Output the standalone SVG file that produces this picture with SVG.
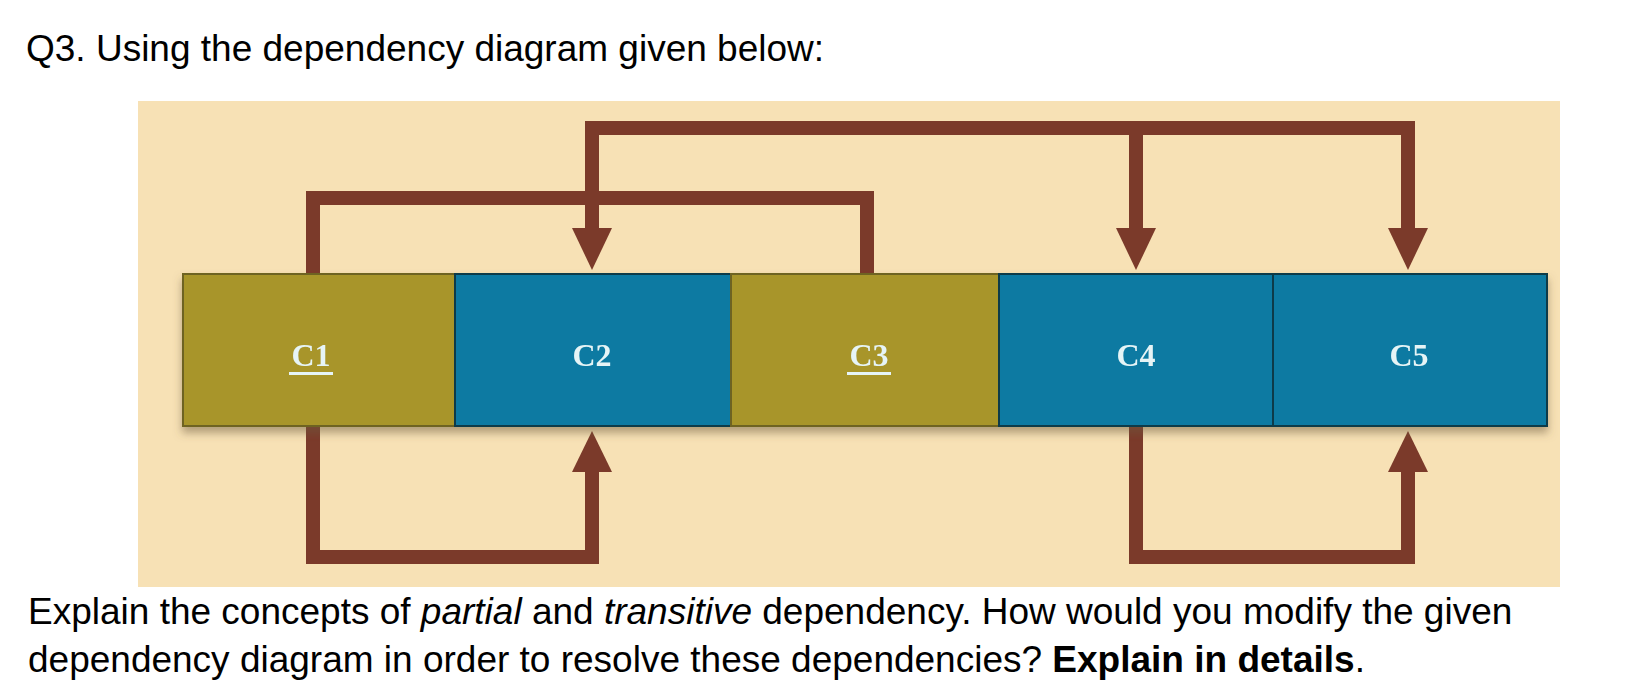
<svg xmlns="http://www.w3.org/2000/svg" width="1638" height="700" viewBox="0 0 1638 700">
<defs>
<style>
.t{font-family:"Liberation Sans",Arial,sans-serif;font-size:37px;fill:#000}
.lbl{font-family:"Liberation Serif","Times New Roman",serif;font-size:32px;font-weight:bold;fill:#e6f4f6;text-anchor:middle}
.ol{fill:#a8952a;stroke:#6e6420;stroke-width:2}
.bl{fill:#0a7aa2;stroke:#0c3a4a;stroke-width:2}
.ln{fill:none;stroke:#7b3a2a;stroke-width:14;stroke-linejoin:miter}
.ah{fill:#7b3a2a}
</style>
<filter id="sh" x="-5%" y="-20%" width="110%" height="150%"><feDropShadow dx="0" dy="6" stdDeviation="4" flood-color="#6b5a3a" flood-opacity="0.5"/></filter>
</defs>
<rect width="1638" height="700" fill="#fff"/>
<text class="t" x="26" y="61">Q3. Using the dependency diagram given below:</text>
<rect x="138" y="101" width="1422" height="486" fill="#f7e1b5"/>
<g id="connectors">
<path class="ln" d="M313 274 V198 H867 V274"/>
<path class="ln" d="M592 228 V128 H1408 V228"/>
<path class="ln" d="M1136 128 V228"/>
<path class="ln" d="M313 426 V557 H592 V472"/>
<path class="ln" d="M1136 426 V557 H1408 V472"/>
<polygon class="ah" points="572,228 612,228 592,270"/>
<polygon class="ah" points="1116,228 1156,228 1136,270"/>
<polygon class="ah" points="1388,228 1428,228 1408,270"/>
<polygon class="ah" points="572,472 612,472 592,431"/>
<polygon class="ah" points="1388,472 1428,472 1408,431"/>
</g>
<g filter="url(#sh)">
<g id="c1"><rect class="ol" x="183" y="274" width="272" height="152"/><text class="lbl" x="311" y="366">C1</text><rect x="289" y="372" width="44" height="3" fill="#e6f4f6"/></g>
<g id="c2"><rect class="bl" x="455" y="274" width="276" height="152"/><text class="lbl" x="592" y="366">C2</text></g>
<g id="c3"><rect class="ol" x="731" y="274" width="268" height="152"/><text class="lbl" x="869" y="366">C3</text><rect x="847" y="372" width="44" height="3" fill="#e6f4f6"/></g>
<g id="c4"><rect class="bl" x="999" y="274" width="274" height="152"/><text class="lbl" x="1136" y="366">C4</text></g>
<g id="c5"><rect class="bl" x="1273" y="274" width="274" height="152"/><text class="lbl" x="1409" y="366">C5</text></g>
</g>
<text class="t" x="28" y="624">Explain the concepts of <tspan font-style="italic">partial</tspan> and <tspan font-style="italic">transitive</tspan> dependency. How would you modify the given</text>
<text class="t" x="28" y="672">dependency diagram in order to resolve these dependencies? <tspan font-weight="bold">Explain in details</tspan>.</text>
</svg>
